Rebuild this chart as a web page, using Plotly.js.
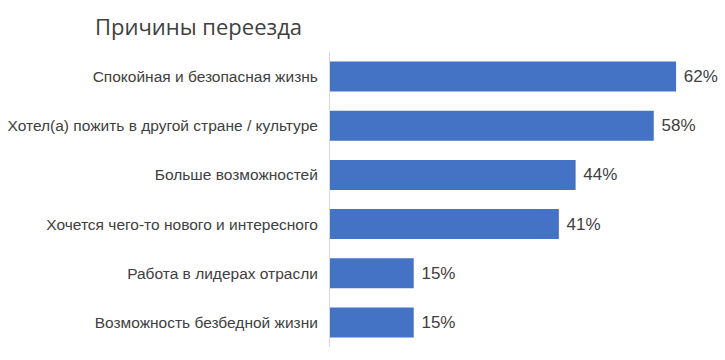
<!DOCTYPE html>
<html><head><meta charset="utf-8">
<script src="https://cdn.plot.ly/plotly-3.0.1.min.js"></script>
<style>html,body{margin:0;padding:0;background:#fff;}</style>
</head><body>
<div id="chart" style="width:725px;height:360px;"></div>
<script>
const categories = [
  "Спокойная и безопасная жизнь",
  "Хотел(а) пожить в другой стране / культуре",
  "Больше возможностей",
  "Хочется чего-то нового и интересного",
  "Работа в лидерах отрасли",
  "Возможность безбедной жизни"
];
const values = [62, 58, 44, 41, 15, 15];
const chartTitle = "Причины переезда";

const labelFont = "'Liberation Sans', Arial, sans-serif";

const trace = {
  type: 'bar',
  orientation: 'h',
  y: categories,
  x: values,
  marker: {color: '#4472C4'},
  texttemplate: ' %{x}%',
  textposition: 'outside',
  cliponaxis: false,
  textfont: {family: labelFont, size: 17, color: '#404040'},
  hoverinfo: 'none'
};

const layout = {
  width: 725, height: 360,
  margin: {l: 330, r: 45, t: 52, b: 13},
  paper_bgcolor: '#ffffff', plot_bgcolor: '#ffffff',
  showlegend: false,
  bargap: 0.39,
  title: {
    text: chartTitle,
    font: {family: "'Open Sans', sans-serif", size: 22, color: '#404040'},
    xref: 'container', yref: 'container',
    x: 95/725, xanchor: 'left',
    y: 1 - 20/360, yanchor: 'top'
  },
  xaxis: {
    range: [0, 62.7],
    showgrid: false, zeroline: false, showticklabels: false, showline: false, ticks: ''
  },
  yaxis: {
    autorange: 'reversed',
    showline: true, linecolor: '#d9d9d9', linewidth: 1,
    ticks: '', ticklen: 0,
    tickfont: {family: labelFont, size: 15.5, color: '#404040'},
    ticklabelstandoff: 8,
    showgrid: false, zeroline: false
  }
};

Plotly.newPlot('chart', [trace], layout, {displayModeBar: false, staticPlot: true});
</script>
</body></html>
